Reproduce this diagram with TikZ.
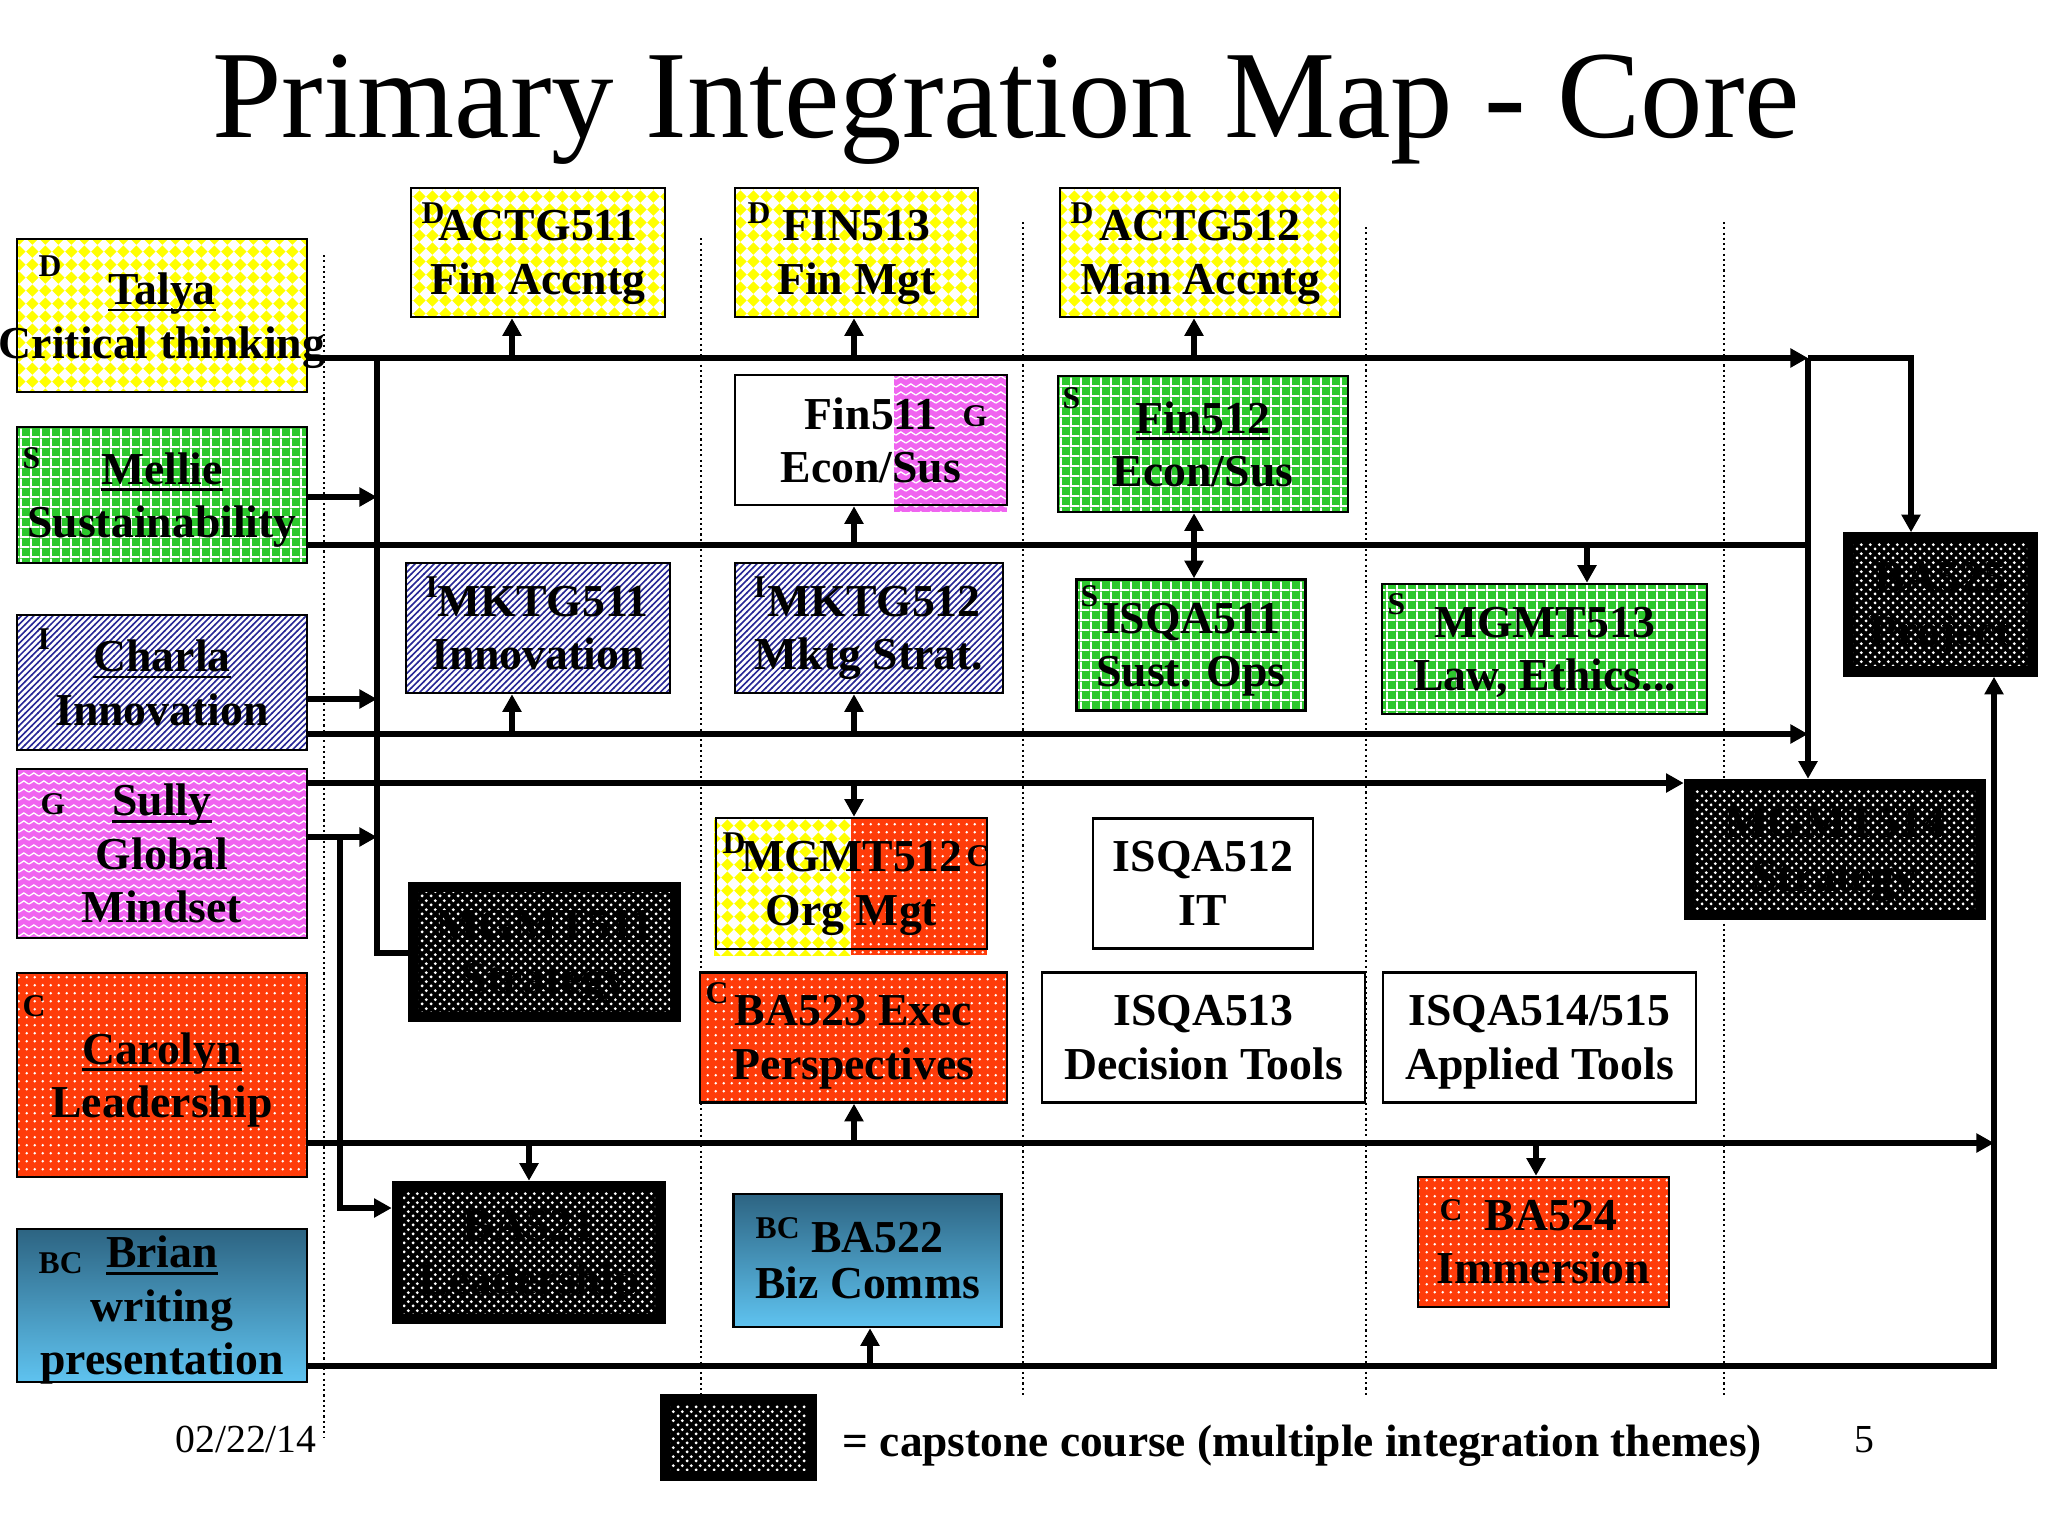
\documentclass[tikz,border=0pt]{standalone}
\usepackage{fontspec}
\setmainfont{Liberation Serif}
\usetikzlibrary{patterns,arrows.meta}

\pgfdeclarepatternformonly{ydiam}{\pgfqpoint{0pt}{0pt}}{\pgfqpoint{3.8pt}{3.8pt}}{\pgfqpoint{3.8pt}{3.8pt}}{%
  \pgfpathmoveto{\pgfqpoint{1.9pt}{0.05pt}}\pgfpathlineto{\pgfqpoint{3.75pt}{1.9pt}}%
  \pgfpathlineto{\pgfqpoint{1.9pt}{3.75pt}}\pgfpathlineto{\pgfqpoint{0.05pt}{1.9pt}}%
  \pgfpathclose\pgfusepath{fill}}
\pgfdeclarepatternformonly{ggrid}{\pgfqpoint{0pt}{0pt}}{\pgfqpoint{2.9pt}{2.9pt}}{\pgfqpoint{2.9pt}{2.9pt}}{%
  \pgfsetlinewidth{0.5pt}%
  \pgfpathmoveto{\pgfqpoint{0pt}{0.3pt}}\pgfpathlineto{\pgfqpoint{2.9pt}{0.3pt}}%
  \pgfpathmoveto{\pgfqpoint{0.3pt}{0pt}}\pgfpathlineto{\pgfqpoint{0.3pt}{2.9pt}}%
  \pgfusepath{stroke}}
\pgfdeclarepatternformonly{bdiag}{\pgfqpoint{-0.5pt}{-0.5pt}}{\pgfqpoint{2.3pt}{2.3pt}}{\pgfqpoint{1.8pt}{1.8pt}}{%
  \pgfsetlinewidth{0.45pt}%
  \pgfpathmoveto{\pgfqpoint{-0.1pt}{-0.1pt}}\pgfpathlineto{\pgfqpoint{1.9pt}{1.9pt}}%
  \pgfusepath{stroke}}
\pgfdeclarepatternformonly{pwave}{\pgfqpoint{0pt}{0pt}}{\pgfqpoint{2.8pt}{2.3pt}}{\pgfqpoint{2.8pt}{2.3pt}}{%
  \pgfsetlinewidth{0.4pt}%
  \pgfpathmoveto{\pgfqpoint{0pt}{0.6pt}}\pgfpathlineto{\pgfqpoint{1.4pt}{1.6pt}}%
  \pgfpathlineto{\pgfqpoint{2.8pt}{0.6pt}}\pgfusepath{stroke}}
\pgfdeclarepatternformonly{sdots}{\pgfqpoint{0pt}{0pt}}{\pgfqpoint{2.2pt}{2.2pt}}{\pgfqpoint{2.2pt}{2.2pt}}{%
  \pgfpathcircle{\pgfqpoint{1.1pt}{1.1pt}}{0.4pt}\pgfusepath{fill}}
\pgfdeclarepatternformonly{xdots}{\pgfqpoint{0pt}{0pt}}{\pgfqpoint{2.6pt}{2.6pt}}{\pgfqpoint{2.6pt}{2.6pt}}{%
  \pgfpathcircle{\pgfqpoint{0.65pt}{0.65pt}}{0.48pt}%
  \pgfpathcircle{\pgfqpoint{1.95pt}{1.95pt}}{0.48pt}\pgfusepath{fill}}

\definecolor{cyel}{RGB}{255,255,0}
\definecolor{cgrn}{RGB}{45,200,45}
\definecolor{cblu}{RGB}{40,40,150}
\definecolor{cpnk}{RGB}{240,100,240}
\definecolor{cred}{RGB}{255,60,10}
\definecolor{cbtop}{RGB}{45,100,130}
\definecolor{cbbot}{RGB}{95,195,240}

\newcommand{\bxf}{\fontsize{13}{15.2}\selectfont\bfseries}
\newcommand{\thf}[1]{\fontsize{13}{#1}\selectfont\bfseries}
\newcommand{\tgf}{\fontsize{9}{10}\selectfont\bfseries}
\newcommand{\lgf}{\fontsize{12.9}{14}\selectfont\bfseries}
\newcommand{\ftf}{\fontsize{11.3}{13}\selectfont}
\newsavebox{\myulbox}
\newcommand{\uln}[1]{\sbox{\myulbox}{#1}\rlap{\rule[-1.9pt]{\wd\myulbox}{0.8pt}}\usebox{\myulbox}}

\begin{document}
\begin{tikzpicture}[x=0.01cm,y=-0.01cm,
  box/.style={draw=black, line width=0.7pt, inner sep=0pt, align=center, font=\bxf, text depth=-2pt},
  thm/.style={box, font=\thf{#1}},
  plainbox/.style={box, fill=white},
  openbox/.style={box},
  ybox/.style={box, preaction={fill=white}, pattern=ydiam, pattern color=cyel},
  gbox/.style={box, preaction={fill=cgrn}, pattern=ggrid, pattern color=white},
  bbox/.style={box, preaction={fill=white}, pattern=bdiag, pattern color=cblu},
  pbox/.style={box, preaction={fill=cpnk}, pattern=pwave, pattern color=white},
  rbox/.style={box, preaction={fill=cred}, pattern=sdots, pattern color=white},
  shbox/.style={box, top color=cbtop, bottom color=cbbot},
  kbox/.style={box, fill=black, path picture={\fill[pattern=xdots, pattern color=white]
     ([shift={(0.1cm,0.1cm)}]path picture bounding box.south west) rectangle
     ([shift={(-0.1cm,-0.1cm)}]path picture bounding box.north east);}},
  tag/.style={font=\tgf, inner sep=0pt, anchor=north west},
  bus/.style={line width=1.6pt},
  arr/.style={bus, -{Triangle[length=5pt,width=5.2pt]}},
  arrtwo/.style={bus, {Triangle[length=5pt,width=5.2pt]}-{Triangle[length=5pt,width=5.2pt]}},
  vdot/.style={line width=0.6pt, dash pattern=on 0.6pt off 0.9pt}
]
\useasboundingbox (0,0) rectangle (2048,1536);

% title
\node[font=\fontsize{35.5}{40}\selectfont, anchor=base, inner sep=0pt] (title) at (1006,137) {Primary Integration Map - Core};

% dotted column separators
\draw[vdot] (324,255) -- (324,1437);
\draw[vdot] (701,238) -- (701,1397);
\draw[vdot] (1023,222) -- (1023,1397);
\draw[vdot] (1366,227) -- (1366,1397);
\draw[vdot] (1724,222) -- (1724,1397);

% theme boxes (left)
\node[thm=13.4pt, ybox, minimum width=2.9cm, minimum height=1.53cm] (Talya) at (162,315.5) {\uln{Talya}\\\makebox[0pt]{Critical thinking}};
\node[thm=14.2pt, gbox, minimum width=2.9cm, minimum height=1.36cm] (Mellie) at (162,495) {\uln{Mellie}\\Sustainability};
\node[thm=15.1pt, bbox, minimum width=2.9cm, minimum height=1.35cm] (Charla) at (162,682.5) {\uln{Charla}\\Innovation};
\node[thm=12.5pt, pbox, minimum width=2.9cm, minimum height=1.69cm] (Sully) at (162,853.5) {\uln{Sully}\\Global\\Mindset};
\node[thm=15.6pt, rbox, minimum width=2.9cm, minimum height=2.04cm] (Carolyn) at (162,1075) {\uln{Carolyn}\\Leadership};
\node[thm=13.2pt, shbox, minimum width=2.9cm, minimum height=1.53cm] (Brian) at (162,1305.5) {\uln{Brian}\\writing\\presentation};

\node[tag] (tgTalya) at (38,255) {D};
\node[tag] (tgMellie) at (22,447) {S};
\node[tag] (tgCharla) at (37,628) {I};
\node[tag] (tgSully) at (40,793) {G};
\node[tag] (tgCarolyn) at (22,995) {C};
\node[tag] (tgBrian) at (38,1252) {BC};

% split-fill backgrounds
\fill[pattern=pwave, pattern color=white, preaction={fill=cpnk}] (894,375) rectangle (1007,512);
\fill[pattern=ydiam, pattern color=cyel, preaction={fill=white}] (714,818) rectangle (851,955);
\fill[pattern=sdots, pattern color=white, preaction={fill=cred}] (851,818) rectangle (987,955);

% course boxes
\node[ybox, minimum width=2.54cm, minimum height=1.29cm] (ACTG511) at (538,252.5) {ACTG511\\Fin Accntg};
\node[ybox, minimum width=2.43cm, minimum height=1.29cm] (FIN513) at (856.5,252.5) {FIN513\\Fin Mgt};
\node[ybox, minimum width=2.80cm, minimum height=1.29cm] (ACTG512) at (1200,252.5) {ACTG512\\Man Accntg};
\node[openbox, minimum width=2.72cm, minimum height=1.30cm] (Fin511) at (871,440) {Fin511\\Econ/Sus};
\node[gbox, minimum width=2.90cm, minimum height=1.36cm] (Fin512) at (1203,444) {\uln{Fin512}\\Econ/Sus};
\node[bbox, minimum width=2.64cm, minimum height=1.30cm] (MKTG511) at (538,628) {\hspace*{0.1cm}MKTG511\\Innovation};
\node[bbox, minimum width=2.68cm, minimum height=1.30cm] (MKTG512) at (869,628) {\hspace*{0.1cm}MKTG512\\Mktg Strat.};
\node[gbox, minimum width=2.29cm, minimum height=1.31cm] (ISQA511) at (1191,645) {ISQA511\\Sust. Ops};
\node[gbox, minimum width=3.25cm, minimum height=1.30cm] (MGMT513) at (1544.5,649) {MGMT513\\Law, Ethics...};
\node[kbox, minimum width=1.93cm, minimum height=1.42cm] (BA525) at (1940.5,604.5) {BA525\\Project};
\node[openbox, minimum width=2.71cm, minimum height=1.31cm] (MGMT512) at (851.5,883.5) {MGMT512\\Org Mgt};
\node[plainbox, minimum width=2.20cm, minimum height=1.30cm] (ISQA512) at (1203,883.5) {ISQA512\\IT};
\node[kbox, minimum width=3.00cm, minimum height=1.39cm] (MGMT514) at (1835,849.5) {MGMT514\\Strategy};
\node[kbox, minimum width=2.71cm, minimum height=1.38cm] (MGMT511) at (544.5,952) {MGMT511\\Strategy};
\node[rbox, minimum width=3.07cm, minimum height=1.30cm] (BA523) at (853.5,1037.5) {BA523 Exec\\Perspectives};
\node[plainbox, minimum width=3.23cm, minimum height=1.30cm] (ISQA513) at (1203.5,1037.5) {ISQA513\\Decision Tools};
\node[plainbox, minimum width=3.13cm, minimum height=1.30cm] (ISQA514) at (1539.5,1037.5) {ISQA514/515\\Applied Tools};
\node[kbox, minimum width=2.72cm, minimum height=1.41cm] (BA521) at (529,1252.5) {BA521\\Leadership};
\node[shbox, font=\fontsize{13}{12.9}\selectfont\bfseries, text depth=-4pt, minimum width=2.68cm, minimum height=1.33cm] (BA522) at (867.5,1260.5) {\hspace*{0.2cm}BA522\\Biz Comms};
\node[rbox, minimum width=2.51cm, minimum height=1.30cm] (BA524) at (1543.5,1242) {\hspace*{0.15cm}BA524\\Immersion};

% course tags
\node[tag] (tgA511) at (421,202) {D};
\node[tag] (tgF513) at (747,202) {D};
\node[tag] (tgA512) at (1070,202) {D};
\node[tag] (tgF511) at (962,405) {G};
\node[tag] (tgF512) at (1062,387) {S};
\node[tag] (tgK511) at (425,576) {I};
\node[tag] (tgK512) at (753,576) {I};
\node[tag] (tgQ511) at (1080,585) {S};
\node[tag] (tgM513) at (1387,593) {S};
\node[tag] (tgM512a) at (722,832) {D};
\node[tag] (tgM512b) at (966,845) {C};
\node[tag] (tgB523) at (705,982) {C};
\node[tag] (tgB522) at (755,1217) {BC};
\node[tag] (tgB524) at (1439,1199) {C};

% junction coordinates
\coordinate (jT) at (1808,358);
\coordinate (cT) at (1911,358);
\coordinate (vL) at (377,358);
\coordinate (tV) at (377,953);
\coordinate (vM) at (377,497);
\coordinate (jM) at (1808,545);
\coordinate (vC) at (377,699);
\coordinate (jC) at (1808,734);
\coordinate (sB) at (1685,783);
\coordinate (vS) at (377,837);
\coordinate (sV) at (340,837);
\coordinate (sH) at (340,1208);
\coordinate (jK) at (1994,1143);
\coordinate (jB) at (1994,1366);

% buses
\draw[arr] (Talya.east |- jT) -- (jT);
\draw[arr] (jT) -- (cT) -- (BA525.north -| cT);
\draw[arr] (jT) -- (MGMT514.north -| jT);
\draw[bus] (vL) -- (tV) -- (MGMT511.west |- tV);
\draw[arr] (Mellie.east |- vM) -- (vM);
\draw[bus] (Mellie.east |- jM) -- (jM);
\draw[arr] (Charla.east |- vC) -- (vC);
\draw[arr] (Charla.east |- jC) -- (jC);
\draw[arr] (Sully.east |- sB) -- (MGMT514.west |- sB);
\draw[arr] (Sully.east |- vS) -- (vS);
\draw[arr] (sV) -- (sH) -- (BA521.west |- sH);
\draw[arr] (Carolyn.east |- jK) -- (jK);
\draw[arr] (Brian.east |- jB) -- (jB) -- (BA525.south -| jB);

% branch arrows
\coordinate (a1) at (512,358);
\coordinate (a2) at (854,358);
\coordinate (a3) at (1194,358);
\coordinate (a4) at (854,545);
\coordinate (a5) at (1194,545);
\coordinate (a6) at (1587,545);
\coordinate (a7) at (512,734);
\coordinate (a8) at (854,734);
\coordinate (a9) at (854,783);
\coordinate (a10) at (529,1143);
\coordinate (a11) at (854,1143);
\coordinate (a12) at (1536,1143);
\coordinate (a13) at (870,1366);
\draw[arr] (a1) -- (ACTG511.south -| a1);
\draw[arr] (a2) -- (FIN513.south -| a2);
\draw[arr] (a3) -- (ACTG512.south -| a3);
\draw[arr] (a4) -- (Fin511.south -| a4);
\draw[arrtwo] (Fin512.south -| a5) -- (ISQA511.north -| a5);
\draw[arr] (a6) -- (MGMT513.north -| a6);
\draw[arr] (a7) -- (MKTG511.south -| a7);
\draw[arr] (a8) -- (MKTG512.south -| a8);
\draw[arr] (a9) -- (MGMT512.north -| a9);
\draw[arr] (a10) -- (BA521.north -| a10);
\draw[arr] (a11) -- (BA523.south -| a11);
\draw[arr] (a12) -- (BA524.north -| a12);
\draw[arr] (a13) -- (BA522.south -| a13);

% footer
\node[font=\ftf, anchor=base, inner sep=0pt] (date) at (246,1452) {02/22/14};
\node[kbox, minimum width=1.55cm, minimum height=0.85cm] (legbox) at (738.5,1437.5) {};
\node[font=\lgf, anchor=base west, inner sep=0pt] (legtxt) at (842,1456) {= capstone course (multiple integration themes)};
\node[font=\ftf, anchor=base, inner sep=0pt] (pnum) at (1864,1452) {5};
\end{tikzpicture}
\end{document}
